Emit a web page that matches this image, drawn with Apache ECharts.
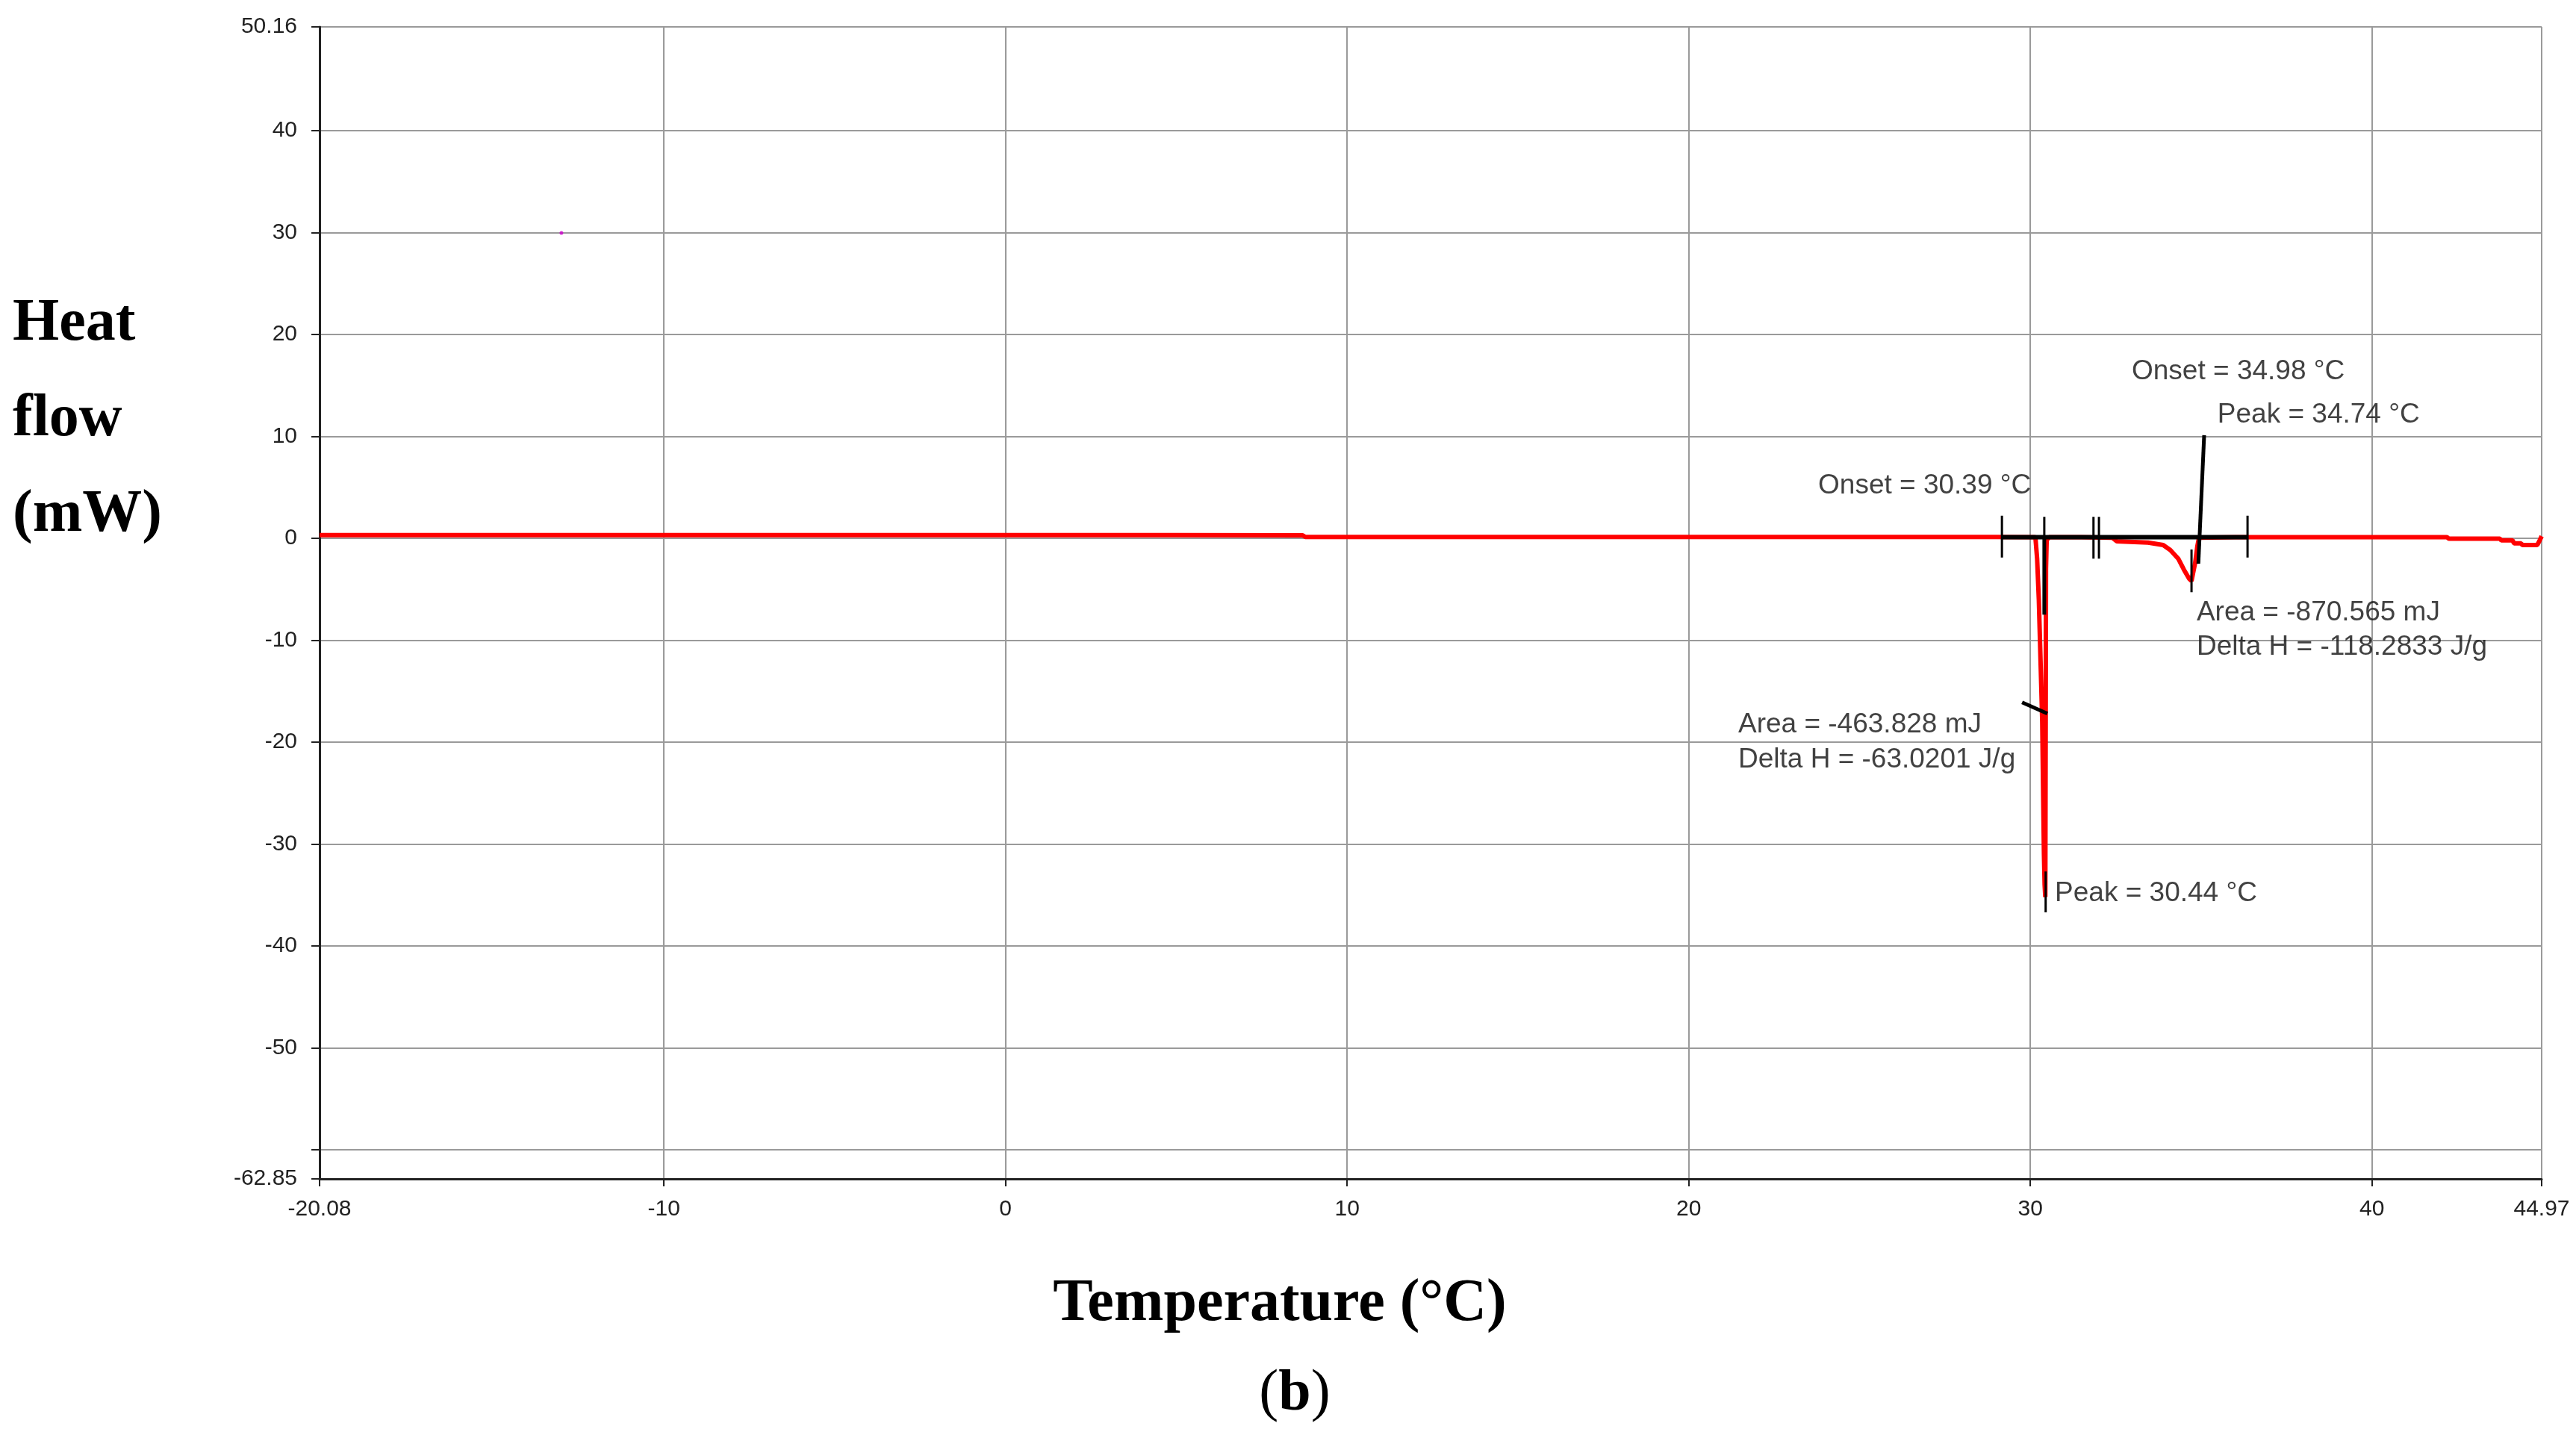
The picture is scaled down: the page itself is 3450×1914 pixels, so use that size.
<!DOCTYPE html>
<html><head><meta charset="utf-8">
<script src="https://cdn.jsdelivr.net/npm/echarts@6/dist/echarts.min.js"></script>
<style>html,body{margin:0;padding:0;background:#fff}#c{width:3450px;height:1914px}</style>
</head><body><div id="c"></div>
<script>
// ---- data ----
const temperature = [-20.08, -15, -10, -5, 0, 5, 8.70, 8.78, 15, 20, 25, 29, 30.15, 30.20, 30.25, 30.30, 30.35, 30.38, 30.40, 30.42, 30.44, 30.45, 30.46, 30.48, 30.55, 31.5, 32.4, 32.53, 33.45, 33.89, 34.10, 34.33, 34.50, 34.65, 34.72, 34.83, 34.89, 34.94, 36, 40, 42.20, 42.25, 43.75, 43.79, 44.12, 44.16, 44.37, 44.40, 44.84, 44.90, 44.97];
const heatFlow = [0.30, 0.30, 0.30, 0.30, 0.30, 0.30, 0.28, 0.12, 0.12, 0.12, 0.12, 0.12, 0.10, -2.0, -6.0, -12.0, -18.0, -26.0, -31.0, -34.0, -35.2, -20.0, -3.0, -0.2, 0.10, 0.10, 0.05, -0.30, -0.43, -0.67, -1.16, -2.0, -3.1, -3.97, -4.2, -2.35, -0.8, 0.05, 0.10, 0.10, 0.10, -0.05, -0.05, -0.22, -0.22, -0.50, -0.50, -0.67, -0.67, -0.30, 0.20];
const xTickValues = [-20.08, -10, 0, 10, 20, 30, 40, 44.97];
const xLabelValues = [-20.08, -10, 0, 10, 20, 30, 40, 44.97];
const yTickValues = [-62.85, -60, -50, -40, -30, -20, -10, 0, 10, 20, 30, 40, 50.16];
const yLabelValues = [-62.85, -50, -40, -30, -20, -10, 0, 10, 20, 30, 40, 50.16];
const xRange = [-20.08, 44.97];
const yRange = [-62.85, 50.16];
// analysis construction lines (temperature, heat flow) pairs
const baselineLine = [[29.17, 0.1], [36.36, 0.1]];
const limitTicks = [
  [[29.17, 2.2], [29.17, -1.9]],
  [[30.41, 2.1], [30.41, 0.1]],
  [[31.85, 2.1], [31.85, -2.0]],
  [[32.01, 2.1], [32.01, -2.0]],
  [[36.36, 2.2], [36.36, -1.9]],
  [[34.72, -1.1], [34.72, -5.3]],
  [[30.45, -32.7], [30.45, -36.7]]
];
const onsetLines = [
  [[30.41, 0.1], [30.41, -7.5]],
  [[35.09, 10.1], [34.92, -2.5]],
  [[29.76, -16.1], [30.50, -17.2]]
];
const strayPoint = [[-13.0, 29.95]];
const annotationTexts = ['Onset = 34.98 °C', 'Peak = 34.74 °C', 'Onset = 30.39 °C', 'Area = -870.565 mJ', 'Delta H = -118.2833 J/g', 'Area = -463.828 mJ', 'Delta H = -63.0201 J/g', 'Peak = 30.44 °C'];
const annotationAnchors = [[32.97, 16.32], [35.48, 12.08], [23.79, 5.12], [34.87, -7.33], [34.87, -10.70], [21.45, -18.32], [21.45, -21.76], [30.72, -34.87]];

const chart = echarts.init(document.getElementById('c'), null, {renderer: 'canvas'});
const series = [];
series.push({
  type: 'line', data: temperature.map((t, i) => [t, heatFlow[i]]),
  showSymbol: false, symbol: 'none', lineStyle: {color: '#ff0000', width: 6}, z: 2, animation: false
});
series.push({type: 'line', data: baselineLine, symbol: 'none', lineStyle: {color: '#000', width: 6}, z: 3, animation: false});
limitTicks.forEach(seg => series.push({type: 'line', data: seg, symbol: 'none', lineStyle: {color: '#000', width: 3}, z: 3, animation: false}));
onsetLines.forEach(seg => series.push({type: 'line', data: seg, symbol: 'none', lineStyle: {color: '#000', width: 5}, z: 3, animation: false}));
series.push({type: 'scatter', data: strayPoint, symbolSize: 5, itemStyle: {color: '#cc00cc'}, z: 3, animation: false});
series.push({
  type: 'scatter', symbolSize: 0, z: 4, animation: false,
  data: annotationAnchors.map((p, i) => ({name: annotationTexts[i], value: p})),
  label: {show: true, formatter: '{b}', position: [0, 0], align: 'left', verticalAlign: 'middle',
    fontFamily: 'Liberation Sans', fontSize: 37, color: '#111'}
});

const axisFont = {fontFamily: 'Liberation Sans', fontSize: 30, color: '#222'};
chart.setOption({
  backgroundColor: '#fff',
  animation: false,
  grid: {left: 428, right: 46, top: 36, bottom: 335, containLabel: false},
  xAxis: {
    type: 'value', min: xRange[0], max: xRange[1],
    axisLine: {show: true, onZero: false, lineStyle: {color: '#222', width: 3}},
    axisTick: {show: true, length: 10, customValues: xTickValues, lineStyle: {color: '#222', width: 2}},
    axisLabel: Object.assign({show: true, margin: 26, customValues: xLabelValues, formatter: v => String(v)}, axisFont),
    splitLine: {show: true, lineStyle: {color: '#9a9a9a', width: 2}}
  },
  yAxis: {
    type: 'value', min: yRange[0], max: yRange[1],
    axisLine: {show: true, onZero: false, lineStyle: {color: '#222', width: 3}},
    axisTick: {show: true, length: 11, customValues: yTickValues, lineStyle: {color: '#222', width: 2}},
    axisLabel: Object.assign({show: true, margin: 30, customValues: yLabelValues, formatter: v => String(v)}, axisFont),
    splitLine: {show: true, lineStyle: {color: '#9a9a9a', width: 2}}
  },
  graphic: [
    {type: 'text', x: 17, y: 434, style: {text: 'Heat', font: 'bold 80px "Liberation Serif"', fill: '#000', textAlign: 'left', textVerticalAlign: 'middle'}},
    {type: 'text', x: 17, y: 562, style: {text: 'flow', font: 'bold 80px "Liberation Serif"', fill: '#000', textAlign: 'left', textVerticalAlign: 'middle'}},
    {type: 'text', x: 17, y: 690, style: {text: '(mW)', font: 'bold 80px "Liberation Serif"', fill: '#000', textAlign: 'left', textVerticalAlign: 'middle'}},
    {type: 'text', x: 1714, y: 1747, style: {text: 'Temperature (°C)', font: 'bold 80px "Liberation Serif"', fill: '#000', textAlign: 'center', textVerticalAlign: 'middle'}},
    {type: 'text', x: 1734, y: 1868, style: {text: '{n|(}{b|b}{n|)}', fill: '#000', textAlign: 'center', textVerticalAlign: 'middle',
      rich: {n: {fontFamily: 'Liberation Serif', fontSize: 78, fontWeight: 'normal'}, b: {fontFamily: 'Liberation Serif', fontSize: 78, fontWeight: 'bold'}}}}
  ],
  series: series
});
</script>
</body></html>
